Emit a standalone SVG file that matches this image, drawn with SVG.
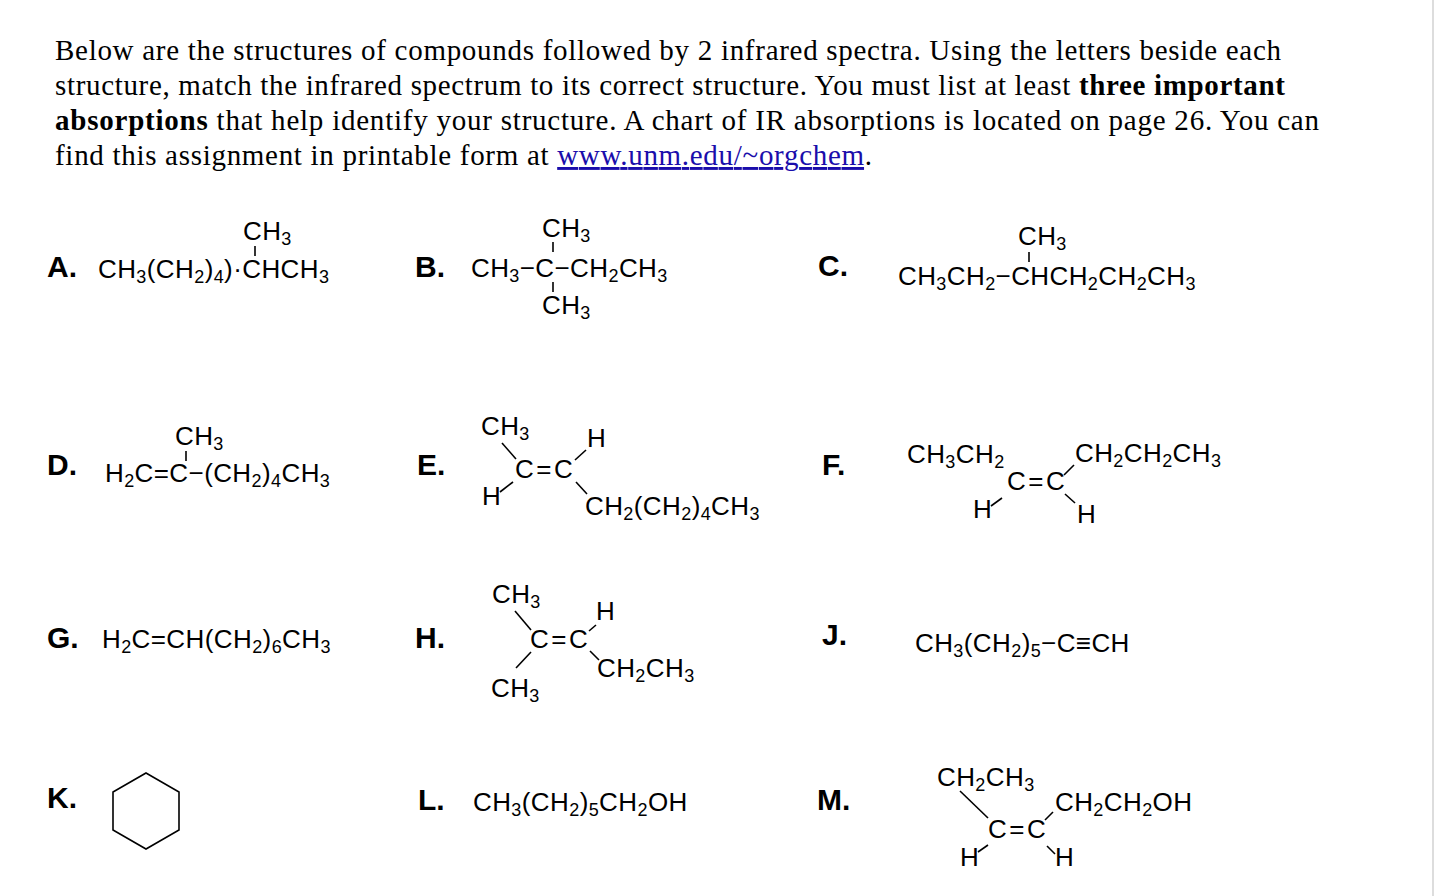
<svg xmlns="http://www.w3.org/2000/svg" width="1446" height="896" viewBox="0 0 1446 896">
<style>
.p{font-family:"Liberation Serif",serif;font-size:29px;fill:#000}
.c{font-family:"Liberation Sans",Arial,sans-serif;font-size:26px;letter-spacing:0.4px;fill:#000}
.cc{letter-spacing:2.5px}
.l{font-family:"Liberation Sans",Arial,sans-serif;font-size:30px;font-weight:bold;fill:#000}
.s{font-size:18px}
.b{stroke:#000;stroke-width:1.6;fill:none}
</style>
<rect width="1446" height="896" fill="#fff"/>
<line x1="1433" y1="0" x2="1433" y2="896" stroke="#ddd" stroke-width="2"/>
<g id="intro">
<text class="p" x="55" y="60" textLength="1226" lengthAdjust="spacing">Below are the structures of compounds followed by 2 infrared spectra.  Using the letters beside each</text>
<text class="p" x="55" y="95" textLength="1230" lengthAdjust="spacing">structure, match the infrared spectrum to its correct structure. You must list at least <tspan font-weight="bold">three important</tspan></text>
<text class="p" x="55" y="130" textLength="1264" lengthAdjust="spacing"><tspan font-weight="bold">absorptions</tspan> that help identify your structure. A chart of IR absorptions is located on page 26.  You can</text>
<text class="p" x="55" y="165" textLength="817" lengthAdjust="spacing">find this assignment in printable form at <tspan fill="#1a0dab" text-decoration="underline">www.unm.edu/~orgchem</tspan>.</text>
</g>
<g id="A">
<text class="l" x="47" y="277">A.</text>
<text class="c" x="243" y="240">CH<tspan class="s" dy="5">3</tspan></text>
<line class="b" x1="255" y1="246" x2="255" y2="256"/>
<text class="c" x="98" y="278">CH<tspan class="s" dy="5">3</tspan><tspan dy="-5">(CH</tspan><tspan class="s" dy="5">2</tspan><tspan dy="-5">)</tspan><tspan class="s" dy="5">4</tspan><tspan dy="-5">)·CHCH</tspan><tspan class="s" dy="5">3</tspan></text>
</g>
<g id="B">
<text class="l" x="415" y="277">B.</text>
<text class="c" x="542" y="237">CH<tspan class="s" dy="5">3</tspan></text>
<line class="b" x1="553" y1="242" x2="553" y2="252"/>
<text class="c" x="471" y="277">CH<tspan class="s" dy="5">3</tspan><tspan dy="-5">−C−CH</tspan><tspan class="s" dy="5">2</tspan><tspan dy="-5">CH</tspan><tspan class="s" dy="5">3</tspan></text>
<line class="b" x1="553" y1="282" x2="553" y2="292"/>
<text class="c" x="542" y="314">CH<tspan class="s" dy="5">3</tspan></text>
</g>
<g id="C">
<text class="l" x="818" y="276">C.</text>
<text class="c" x="1018" y="245">CH<tspan class="s" dy="5">3</tspan></text>
<line class="b" x1="1029" y1="252" x2="1029" y2="262"/>
<text class="c" x="898" y="285">CH<tspan class="s" dy="5">3</tspan><tspan dy="-5">CH</tspan><tspan class="s" dy="5">2</tspan><tspan dy="-5">−CHCH</tspan><tspan class="s" dy="5">2</tspan><tspan dy="-5">CH</tspan><tspan class="s" dy="5">2</tspan><tspan dy="-5">CH</tspan><tspan class="s" dy="5">3</tspan></text>
</g>
<g id="D">
<text class="l" x="47" y="475">D.</text>
<text class="c" x="175" y="445">CH<tspan class="s" dy="5">3</tspan></text>
<line class="b" x1="186" y1="451" x2="186" y2="461"/>
<text class="c" x="105" y="482">H<tspan class="s" dy="5">2</tspan><tspan dy="-5">C=C−(CH</tspan><tspan class="s" dy="5">2</tspan><tspan dy="-5">)</tspan><tspan class="s" dy="5">4</tspan><tspan dy="-5">CH</tspan><tspan class="s" dy="5">3</tspan></text>
</g>
<g id="E">
<text class="l" x="417" y="475">E.</text>
<text class="c" x="481" y="435">CH<tspan class="s" dy="5">3</tspan></text>
<text class="c cc" x="515" y="478">C=C</text>
<text class="c" x="587" y="447">H</text>
<text class="c" x="482" y="505">H</text>
<text class="c" x="585" y="515">CH<tspan class="s" dy="5">2</tspan><tspan dy="-5">(CH</tspan><tspan class="s" dy="5">2</tspan><tspan dy="-5">)</tspan><tspan class="s" dy="5">4</tspan><tspan dy="-5">CH</tspan><tspan class="s" dy="5">3</tspan></text>
<line class="b" x1="502" y1="443" x2="516" y2="459"/>
<line class="b" x1="500" y1="492" x2="513" y2="482"/>
<line class="b" x1="575" y1="460" x2="586" y2="450"/>
<line class="b" x1="576" y1="482" x2="587" y2="494"/>
</g>
<g id="F">
<text class="l" x="822" y="475">F.</text>
<text class="c" x="907" y="463">CH<tspan class="s" dy="5">3</tspan><tspan dy="-5">CH</tspan><tspan class="s" dy="5">2</tspan></text>
<text class="c cc" x="1007" y="490">C=C</text>
<text class="c" x="1075" y="462">CH<tspan class="s" dy="5">2</tspan><tspan dy="-5">CH</tspan><tspan class="s" dy="5">2</tspan><tspan dy="-5">CH</tspan><tspan class="s" dy="5">3</tspan></text>
<text class="c" x="973" y="518">H</text>
<text class="c" x="1077" y="523">H</text>
<line class="b" x1="991" y1="506" x2="1002" y2="498"/>
<line class="b" x1="1064" y1="475" x2="1074" y2="465"/>
<line class="b" x1="1065" y1="494" x2="1075" y2="503"/>
</g>
<g id="G">
<text class="l" x="47" y="648">G.</text>
<text class="c" x="102" y="648">H<tspan class="s" dy="5">2</tspan><tspan dy="-5">C=CH(CH</tspan><tspan class="s" dy="5">2</tspan><tspan dy="-5">)</tspan><tspan class="s" dy="5">6</tspan><tspan dy="-5">CH</tspan><tspan class="s" dy="5">3</tspan></text>
</g>
<g id="H">
<text class="l" x="415" y="648">H.</text>
<text class="c" x="492" y="603">CH<tspan class="s" dy="5">3</tspan></text>
<text class="c cc" x="530" y="648">C=C</text>
<text class="c" x="596" y="620">H</text>
<text class="c" x="597" y="677">CH<tspan class="s" dy="5">2</tspan><tspan dy="-5">CH</tspan><tspan class="s" dy="5">3</tspan></text>
<text class="c" x="491" y="697">CH<tspan class="s" dy="5">3</tspan></text>
<line class="b" x1="515" y1="611" x2="531" y2="630"/>
<line class="b" x1="516" y1="668" x2="531" y2="652"/>
<line class="b" x1="589" y1="631" x2="596" y2="625"/>
<line class="b" x1="590" y1="651" x2="599" y2="660"/>
</g>
<g id="J">
<text class="l" x="822" y="645">J.</text>
<text class="c" x="915" y="652">CH<tspan class="s" dy="5">3</tspan><tspan dy="-5">(CH</tspan><tspan class="s" dy="5">2</tspan><tspan dy="-5">)</tspan><tspan class="s" dy="5">5</tspan><tspan dy="-5">−C≡CH</tspan></text>
</g>
<g id="K">
<text class="l" x="47" y="808">K.</text>
<polygon class="b" points="146,773 179,792 179,830 146,849 113,830 113,792"/>
</g>
<g id="L">
<text class="l" x="418" y="810">L.</text>
<text class="c" x="473" y="811">CH<tspan class="s" dy="5">3</tspan><tspan dy="-5">(CH</tspan><tspan class="s" dy="5">2</tspan><tspan dy="-5">)</tspan><tspan class="s" dy="5">5</tspan><tspan dy="-5">CH</tspan><tspan class="s" dy="5">2</tspan><tspan dy="-5">OH</tspan></text>
</g>
<g id="M">
<text class="l" x="817" y="810">M.</text>
<text class="c" x="937" y="786">CH<tspan class="s" dy="5">2</tspan><tspan dy="-5">CH</tspan><tspan class="s" dy="5">3</tspan></text>
<text class="c cc" x="988" y="838">C=C</text>
<text class="c" x="1055" y="811">CH<tspan class="s" dy="5">2</tspan><tspan dy="-5">CH</tspan><tspan class="s" dy="5">2</tspan><tspan dy="-5">OH</tspan></text>
<text class="c" x="960" y="866">H</text>
<text class="c" x="1055" y="866">H</text>
<line class="b" x1="960" y1="791" x2="988" y2="818"/>
<line class="b" x1="978" y1="852" x2="988" y2="845"/>
<line class="b" x1="1045" y1="820" x2="1053" y2="812"/>
<line class="b" x1="1047" y1="846" x2="1055" y2="854"/>
</g>
</svg>
